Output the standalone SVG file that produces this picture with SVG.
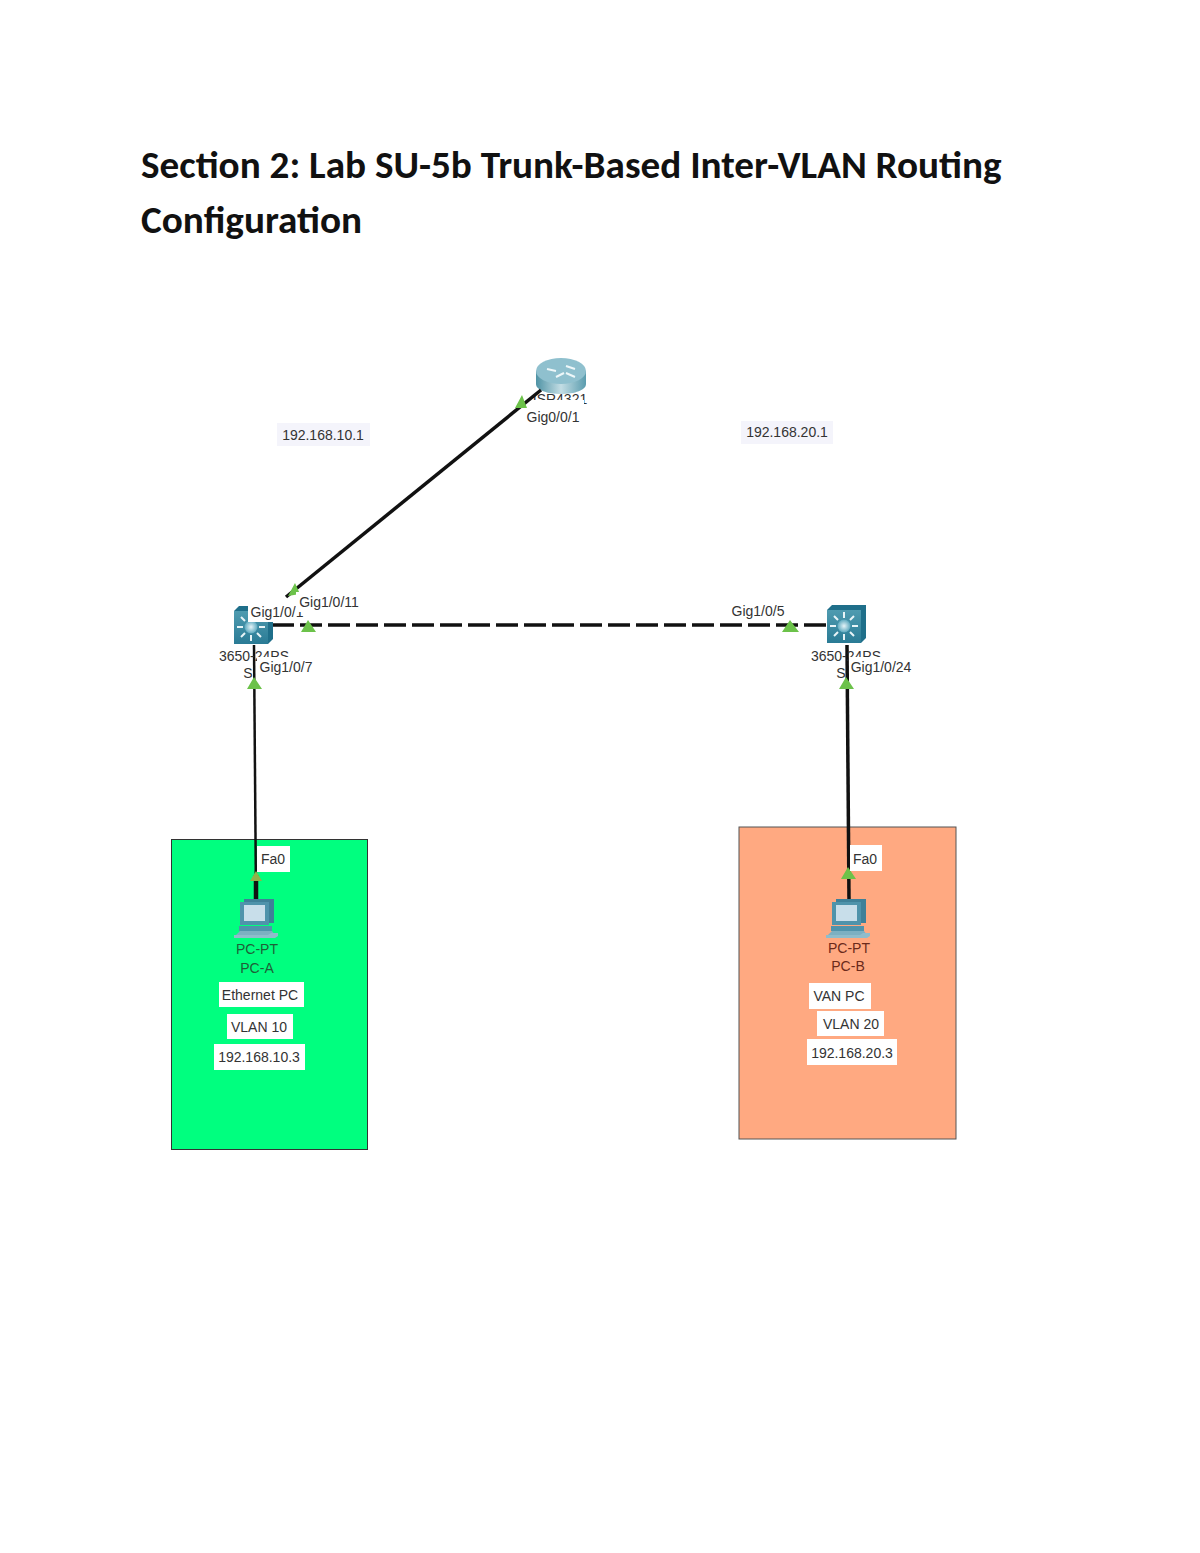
<svg xmlns="http://www.w3.org/2000/svg" width="1200" height="1553" viewBox="0 0 1200 1553">
<style>
.h{font:700 39.2px "Carlito","Open Sans","Liberation Sans",sans-serif;fill:#111}
.t{font:14px "Liberation Sans",Arial,sans-serif;fill:#333;text-anchor:middle}
.lb{fill:#fff}
.pl{fill:#f4f4fb}
.w{stroke:#111;stroke-width:3.5;fill:none}
.tri{fill:#6cc24a}
.dk{fill:#1f5f38}
.dr{fill:#6b2a1a}
</style>
<defs>
<linearGradient id="sw" x1="0" y1="0" x2="0" y2="1"><stop offset="0" stop-color="#4f9bb0"/><stop offset="1" stop-color="#2a7b95"/></linearGradient>
<radialGradient id="orb"><stop offset="0" stop-color="#e6f4f8"/><stop offset="1" stop-color="#5da9bf"/></radialGradient>
<linearGradient id="rt" x1="0" y1="0" x2="1" y2="0"><stop offset="0" stop-color="#4f93a5"/><stop offset=".5" stop-color="#c3dde4"/><stop offset="1" stop-color="#5a9cae"/></linearGradient>
<g id="pc">
<path d="M8 0h30v24H8z" fill="#3f8098"/>
<path d="M4 3h29v23H4z" fill="#4f93ab"/>
<rect x="8" y="6" width="21" height="16" fill="#c8deea"/>
<path d="M3 27h33v5H3z" fill="#4f93ab"/>
<path d="M4 32h32l3 4H0z" fill="#7cb0c2"/>
<path d="M-2 36h34l3-2h7v3l-3 2H-2z" fill="#8fbccb"/>
</g>
<g id="l3">
<path d="M0 5l5-5h34v33l-5 5H0z" fill="#1f6f8a"/>
<rect x="0" y="5" width="34" height="33" fill="url(#sw)"/>
<circle cx="17" cy="21" r="6.5" fill="url(#orb)"/>
<g stroke="#e8f4f7" stroke-width="2"><path d="M17 7v6M17 29v6M3 21h6M25 21h6M7 11l4 4M27 11l-4 4M7 31l4-4M27 31l-4-4"/></g>
</g>
</defs>
<rect width="1200" height="1553" fill="#fff"/>
<text class="h" x="141" y="178">Section 2: Lab SU-5b Trunk-Based Inter-VLAN Routing</text>
<text class="h" x="141" y="233">Configuration</text>

<g id="vlan-10-zone"><rect x="171.500" y="839.500" width="196" height="310" fill="#00ff7f" stroke="#333"/></g>
<g id="vlan-20-zone"><rect x="739" y="827" width="217" height="312" fill="#ffa981" stroke="#555"/></g>

<g id="router-isr4321">
<path d="M536 371v13c0 6 11 10 25 10s25-4 25-10v-13z" fill="url(#rt)"/>
<ellipse cx="561" cy="371" rx="25" ry="13" fill="#8fc0ce"/>
<path d="M547 369l9 2M566 366l9 3M556 377l8-4M566 373l9 4" stroke="#eef7f9" stroke-width="2"/>
<text class="t" x="560" y="404">ISR4321</text>
<rect class="lb" x="524" y="400" width="60" height="26"/>
<text class="t" x="553" y="422">Gig0/0/1</text>
</g>

<g id="connectors">
<path class="w" d="M541 390L286 597"/>
<path d="M272 625H828" stroke="#111" stroke-width="3.500" stroke-dasharray="22 6" fill="none"/>
<path d="M254 645L256 900" stroke="#111" stroke-width="2.500" fill="none"/>
<path class="w" d="M847 645L849 900"/>
<path d="M256 875V900" stroke="#111" stroke-width="4.500"/>
<path class="tri" d="M515 408l7-13 5 13zM288 596l7-13 5 11zM301 632l7-12 8 12zM782 632l8-12 9 12zM247 689l7-12 8 12zM839 689l7-12 8 12zM841 879l7-12 8 12z"/>
<path d="M250 881l6-10 6 10z" fill="#8fb34a"/>
</g>

<g id="switch-left">
<use href="#l3" x="234" y="606"/>
<text class="t" x="254" y="661">3650-24PS</text>
<rect class="lb" x="257" y="657" width="60" height="22"/>
<text class="t" x="248" y="678">S</text>
<text class="t" x="286" y="672">Gig1/0/7</text>
<rect class="lb" x="248" y="603" width="48" height="19"/>
<text class="t" x="277" y="617">Gig1/0/1</text>
<rect class="lb" x="296" y="592" width="64" height="20"/>
<text class="t" x="329" y="607">Gig1/0/11</text>
</g>

<g id="switch-right">
<use href="#l3" x="827" y="605"/>
<text class="t" x="846" y="661">3650-24PS</text>
<rect class="lb" x="849" y="657" width="66" height="22"/>
<text class="t" x="841" y="678">S</text>
<text class="t" x="881" y="672">Gig1/0/24</text>
<text class="t" x="758" y="616">Gig1/0/5</text>
</g>

<g id="label-gw-10"><rect class="pl" x="277" y="423" width="93" height="23"/><text class="t" x="323" y="440">192.168.10.1</text></g>
<g id="label-gw-20"><rect class="pl" x="741" y="421" width="92" height="23"/><text class="t" x="787" y="437">192.168.20.1</text></g>

<g id="pc-a">
<rect class="lb" x="257" y="846" width="33" height="26"/>
<text class="t" x="273" y="864">Fa0</text>
<use href="#pc" x="236" y="899"/>
<text class="t dk" x="257" y="954">PC-PT</text>
<text class="t dk" x="257" y="973">PC-A</text>
<rect class="lb" x="219" y="982" width="85" height="25"/>
<text class="t" x="260" y="1000">Ethernet PC</text>
<rect class="lb" x="227" y="1014" width="66" height="25"/>
<text class="t" x="259" y="1032">VLAN 10</text>
<rect class="lb" x="214" y="1044" width="91" height="26"/>
<text class="t" x="259" y="1062">192.168.10.3</text>
</g>

<g id="pc-b">
<rect class="lb" x="850" y="845" width="32" height="26"/>
<text class="t" x="865" y="864">Fa0</text>
<use href="#pc" x="828" y="899"/>
<text class="t dr" x="849" y="953">PC-PT</text>
<text class="t dr" x="848" y="971">PC-B</text>
<rect class="lb" x="809" y="983" width="62" height="26"/>
<text class="t" x="839" y="1001">VAN PC</text>
<rect class="lb" x="817" y="1011" width="67" height="25"/>
<text class="t" x="851" y="1029">VLAN 20</text>
<rect class="lb" x="807" y="1039" width="90" height="26"/>
<text class="t" x="852" y="1058">192.168.20.3</text>
</g>
</svg>
